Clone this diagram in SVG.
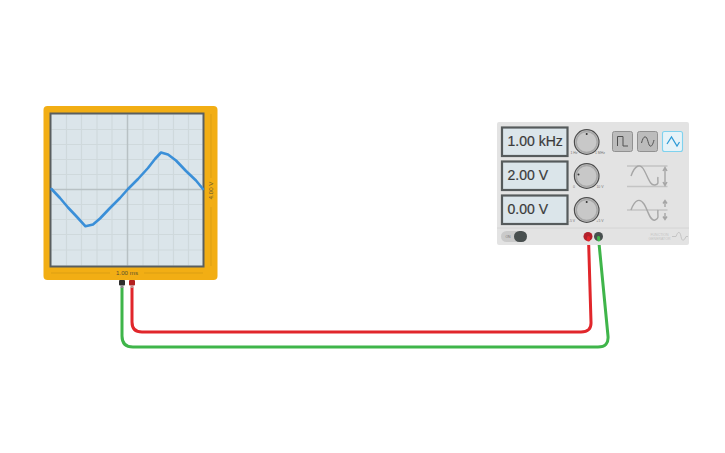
<svg xmlns="http://www.w3.org/2000/svg" width="725" height="453" viewBox="0 0 725 453">
<defs>
<style>
text{font-family:"Liberation Sans",Arial,sans-serif}
.grid{stroke:#cfd9dc;stroke-width:1.200;fill:none}
.axis{stroke:#b8c1c4;stroke-width:1.500;fill:none}
.tick{stroke:#dc9f12;stroke-width:1;fill:none}
.lcd{fill:#dbe5ea;stroke:#565b5c;stroke-width:2.200}
.val{font-size:14px;fill:#3a3a3a;stroke:#3a3a3a;stroke-width:.2}
.knob{fill:#c8c8c8;stroke:#4d4d4d;stroke-width:1.200}
.knobin{fill:none;stroke:#a8a8a8;stroke-width:1.500}
.mini{font-size:3.500px;fill:#777;text-anchor:middle}
.btn{fill:#bcbcbc;stroke:#919191;stroke-width:1}
.ico{fill:none;stroke:#505050;stroke-width:1}
.gl{fill:none;stroke:#c4c4c4;stroke-width:1.300}
.gw{fill:none;stroke:#a6a6a6;stroke-width:1.400}
.wire{fill:none;stroke-width:3;stroke-linecap:round;stroke-linejoin:round}
</style>
</defs>
<rect width="725" height="453" fill="#fff"/>
<g id="connectors">
<path class="wire" stroke="#e1262b" d="M132 288V322Q132 332 142 332H581Q591.500 332 591 322L588.500 238"/>
<path class="wire" stroke="#3fb54a" d="M122 288V336Q122 347 133 347H598Q609 347 608 336L598.500 238"/>
</g>
<g id="oscilloscope">
<rect x="43.500" y="106" width="174" height="174" rx="4" fill="#f2ae14"/>
<rect x="50.500" y="113.500" width="153" height="153" fill="#dbe5ea"/>
<path class="grid" d="M66.500 114.500V265.500M81.500 114.500V265.500M97 114.500V265.500M112 114.500V265.500M143 114.500V265.500M158.500 114.500V265.500M173.500 114.500V265.500M188.500 114.500V265.500M51.500 129.500H202.500M51.500 144.500H202.500M51.500 159.500H202.500M51.500 174.500H202.500M51.500 204.500H202.500M51.500 219.500H202.500M51.500 234.500H202.500M51.500 250H202.500"/>
<path class="axis" d="M127.500 114.500V265.500M51.500 189.500H202.500"/>
<rect x="50.500" y="113.500" width="153" height="153" fill="none" stroke="#595e5f" stroke-width="2"/>
<path d="M51.500 189L60 198L68 207.500L77 217L85.500 226.300L93 224.500L100 218.500L110 208L120 198L128 189L138 179L148 168L155 159L161 152.500L168 154.500L176 160.500L186 171L196 180.500L203 189" fill="none" stroke="#3a8fd8" stroke-width="2.600" stroke-linejoin="round" stroke-linecap="round"/>
<path class="tick" d="M51 273H110M144 273H203M211 114V178M211 207V266"/>
<text x="127" y="275" font-size="6.200" fill="#5a5230" text-anchor="middle">1.00 ms</text>
<text transform="translate(213 190.500) rotate(-90)" font-size="6.200" fill="#5a5230" text-anchor="middle">4.00 V</text>
<rect x="119" y="280" width="6" height="5.500" rx="1" fill="#2d2d2d"/>
<rect x="120.500" y="285" width="3" height="3" fill="#8a8a8a"/>
<rect x="129" y="280" width="6" height="5.500" rx="1" fill="#b3201f"/>
<rect x="130.500" y="285" width="3" height="3" fill="#c98a8a"/>
</g>
<g id="function-generator">
<rect x="497" y="122" width="192" height="123" rx="2" fill="#e3e3e3"/>
<path d="M497 228H689" stroke="#d4d4d4" stroke-width="1"/>
<rect class="lcd" x="502" y="127.500" width="65.500" height="28.500"/>
<text class="val" x="507.500" y="145.500">1.00 kHz</text>
<rect class="lcd" x="502" y="161.500" width="65.500" height="28.500"/>
<text class="val" x="507.500" y="179.500">2.00 V</text>
<rect class="lcd" x="502" y="195.500" width="65.500" height="28.500"/>
<text class="val" x="507.500" y="213.500">0.00 V</text>
<circle class="knob" cx="586.700" cy="142" r="12.300"/><circle class="knobin" cx="586.700" cy="142" r="10.500"/><circle cx="586.700" cy="134" r="1" fill="#333"/>
<text class="mini" x="574" y="154">1 Hz</text><text class="mini" x="600" y="154">1 MHz</text>
<circle class="knob" cx="586.700" cy="176" r="12.300"/><circle class="knobin" cx="586.700" cy="176" r="10.500"/><circle cx="578.500" cy="174.500" r="1" fill="#333"/>
<text class="mini" x="574" y="188">0</text><text class="mini" x="600" y="188">10 V</text>
<circle class="knob" cx="586.700" cy="210" r="12.300"/><circle class="knobin" cx="586.700" cy="210" r="10.500"/><circle cx="586.700" cy="202" r="1" fill="#333"/>
<text class="mini" x="572" y="222">-5 V</text><text class="mini" x="600" y="222">+5 V</text>
<rect class="btn" x="612.500" y="131.500" width="20" height="20" rx="2"/>
<path class="ico" d="M617.500 146V136.500H623V146H628"/>
<rect class="btn" x="637.500" y="131.500" width="20" height="20" rx="2"/>
<path class="ico" d="M641.500 143C643.500 135 646.500 135 648 141.500S652 148 654 140"/>
<rect x="662.500" y="131.500" width="20" height="20" rx="2" fill="#e6f3f8" stroke="#7fd2ee" stroke-width="1.100"/>
<path d="M667 144L671.500 137L677 146L679.500 142" fill="none" stroke="#2c9ad6" stroke-width="1.200"/>
<path class="gl" d="M627 166H667.500M627 186.500H667.500"/>
<path class="gw" d="M631 176C635 165 640 163 644 170S650 186 655 185S657 181 658 177"/>
<path class="gw" d="M665 168V185M663 171L665 167.500L667 171M663 182L665 185.500L667 182"/>
<path class="gl" d="M627 210H667.500"/>
<path class="gw" d="M631 210C635 199 640 198 644 204S650 222 655 220S657 215 658 210"/>
<path class="gw" d="M665 201V207M663 203.500L665 200.500L667 203.500M665 213V219M663 216.500L665 219.500L667 216.500"/>
<rect x="501" y="231" width="26" height="11" rx="5.500" fill="#cacaca"/>
<rect x="514" y="231" width="13" height="11" rx="5.500" fill="#484f4f"/>
<text class="mini" x="508" y="238">ON</text>
<text x="659.500" y="235.500" font-size="3.500" fill="#c4c4c4" text-anchor="middle">FUNCTION</text>
<text x="659.500" y="239.500" font-size="3.500" fill="#c4c4c4" text-anchor="middle">GENERATOR</text>
<path d="M672 236.500H676C678 231 680 231 681 236.500S684 241 686 236.500H688" fill="none" stroke="#c4c4c4" stroke-width="1"/>
<circle cx="588" cy="236.500" r="4.500" fill="#b3202a"/>
<circle cx="598.500" cy="236.500" r="4.500" fill="#484f4f"/>
<path class="wire" stroke="#e1262b" d="M588.500 237.500V240"/>
<path class="wire" stroke="#3fb54a" d="M598.500 237.500L598.800 240"/>
</g>
</svg>
